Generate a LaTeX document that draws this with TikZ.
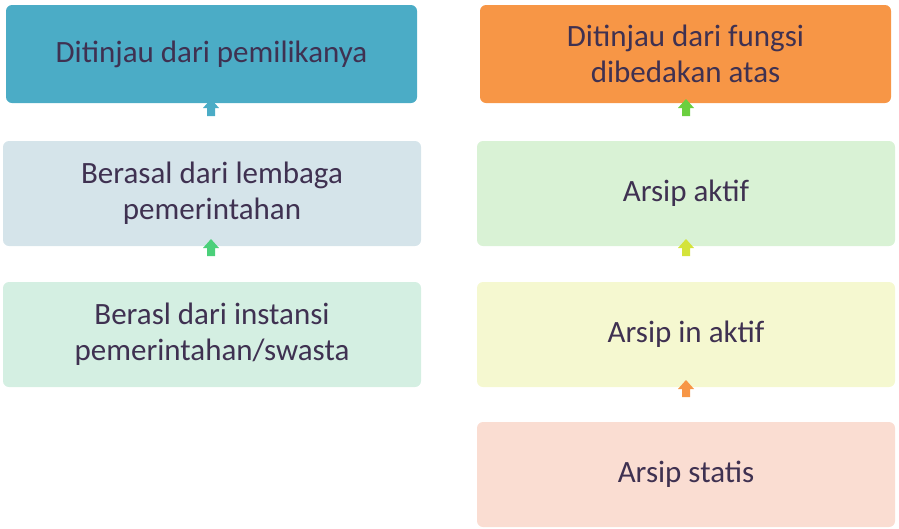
\documentclass[tikz,border=0pt]{standalone}
\usepackage{fontspec}
\setmainfont{Carlito}
\usetikzlibrary{positioning}
\definecolor{txt}{HTML}{3F3151}
\definecolor{tealc}{HTML}{4BACC6}
\definecolor{orangec}{HTML}{F79646}
\definecolor{lb}{HTML}{D5E4EA}
\definecolor{lg}{HTML}{D4EFE2}
\definecolor{rg}{HTML}{D9F2D5}
\definecolor{ry}{HTML}{F5F8D0}
\definecolor{rp}{HTML}{FADDD2}
\definecolor{ag}{HTML}{4BD07A}
\definecolor{ag2}{HTML}{6BCF3F}
\definecolor{ay}{HTML}{D4E33A}
\tikzset{
 box/.style={rounded corners=6pt,text=txt,font=\fontsize{31}{36}\selectfont,align=center,inner sep=0pt},
 darr/.style={fill=#1,draw=none}
}
\newcommand{\downarr}[3]{\fill[#3] (#1-4,#2) -- (#1+4,#2) -- (#1+4,#2-8) -- (#1+8,#2-8) -- (#1,#2-17) -- (#1-8,#2-8) -- (#1-4,#2-8) -- cycle;}
\begin{document}
\begin{tikzpicture}[x=1pt,y=-1pt]
\useasboundingbox (0,0) rectangle (899,528);
\node[box,fill=tealc,minimum width=411pt,minimum height=98pt] (l1) at (211.5,54) {Ditinjau dari pemilikanya};
\node[box,fill=lb,minimum width=418pt,minimum height=105pt] (l2) at (212,193.5) {Berasal dari lembaga\\pemerintahan};
\node[box,fill=lg,minimum width=418pt,minimum height=105pt] (l3) at (212,334.5) {Berasl dari instansi\\pemerintahan/swasta};
\node[box,fill=orangec,minimum width=411pt,minimum height=98pt] (r1) at (685.5,54) {Ditinjau dari fungsi\\dibedakan atas};
\node[box,fill=rg,minimum width=418pt,minimum height=105pt] (r2) at (686,193.5) {Arsip aktif};
\node[box,fill=ry,minimum width=418pt,minimum height=105pt] (r3) at (686,334.5) {Arsip in aktif};
\node[box,fill=rp,minimum width=418pt,minimum height=105pt] (r4) at (686,474.5) {Arsip statis};
\downarr{211}{116}{tealc}
\downarr{211}{256}{ag}
\downarr{686}{116}{ag2}
\downarr{686}{256}{ay}
\downarr{686}{397}{orangec}
\end{tikzpicture}
\end{document}
